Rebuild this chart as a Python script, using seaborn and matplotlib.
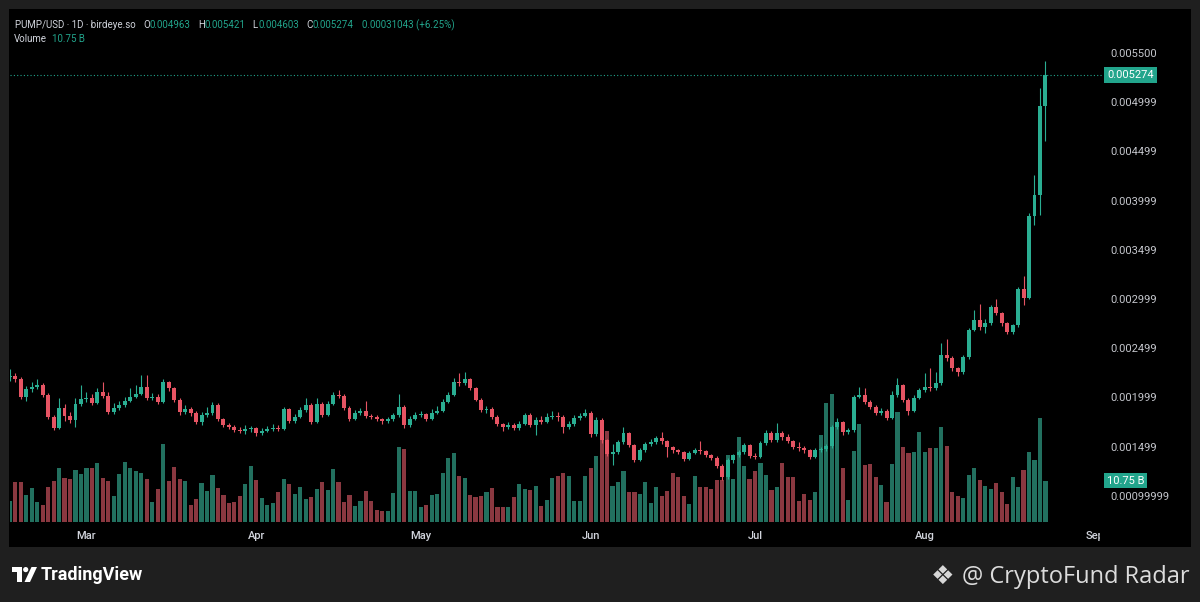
import numpy as np
import pandas as pd
import matplotlib
matplotlib.use('Agg')
import matplotlib.pyplot as plt
import matplotlib.patches as mpatches
from matplotlib.transforms import IdentityTransform
import seaborn as sns

# PUMP/USD daily candles from birdeye, 15 Feb -> 23 Aug
# prices are in thousandths of a USD, volume in billions
start_date = '2025-02-15'
first_open = 2.208

close_px = [
    2.218, 2.187, 2.004, 2.085, 2.106, 2.126, 2.024, 1.801, 1.689, 1.892,
    1.811, 1.770, 1.933, 1.984, 1.994, 1.943, 2.055, 2.014, 1.852, 1.892,
    1.923, 1.963, 2.004, 2.035, 2.106, 1.994, 2.004, 1.953, 2.157, 2.096,
    1.974, 1.852, 1.882, 1.841, 1.750, 1.821, 1.841, 1.923, 1.780, 1.720,
    1.699, 1.669, 1.659, 1.679, 1.689, 1.638, 1.659, 1.679, 1.689, 1.679,
    1.882, 1.760, 1.801, 1.872, 1.923, 1.750, 1.933, 1.821, 1.933, 2.024,
    2.014, 1.892, 1.780, 1.841, 1.862, 1.811, 1.801, 1.780, 1.760, 1.780,
    1.821, 1.902, 1.720, 1.780, 1.821, 1.831, 1.780, 1.841, 1.862, 1.953,
    2.024, 2.157, 2.146, 2.187, 2.096, 1.974, 1.872, 1.882, 1.801, 1.730,
    1.699, 1.720, 1.689, 1.730, 1.821, 1.720, 1.770, 1.750, 1.801, 1.811,
    1.801, 1.699, 1.730, 1.790, 1.811, 1.841, 1.628, 1.770, 1.567, 1.425,
    1.445, 1.547, 1.638, 1.516, 1.364, 1.465, 1.526, 1.547, 1.587, 1.557,
    1.496, 1.465, 1.445, 1.374, 1.435, 1.465, 1.455, 1.415, 1.384, 1.303,
    1.191, 1.364, 1.415, 1.445, 1.516, 1.404, 1.394, 1.537, 1.638, 1.567,
    1.638, 1.597, 1.557, 1.496, 1.486, 1.465, 1.394, 1.465, 1.476, 1.506,
    1.699, 1.750, 1.648, 1.669, 2.004, 2.024, 1.953, 1.902, 1.841, 1.862,
    1.790, 2.024, 2.126, 1.974, 1.862, 1.994, 2.075, 2.106, 2.096, 2.146,
    2.431, 2.400, 2.299, 2.258, 2.411, 2.685, 2.787, 2.716, 2.756, 2.919,
    2.858, 2.756, 2.665, 2.736, 3.102, 3.011, 3.843, 4.057, 4.963, 5.274,
]

high_px = [
    2.29, 2.25, 2.21, 2.12, 2.16, 2.19, 2.15, 2.04, 1.82, 1.99,
    1.93, 1.85, 1.99, 2.13, 2.06, 2.03, 2.10, 2.16, 2.05, 1.94,
    1.96, 2.00, 2.10, 2.13, 2.23, 2.23, 2.04, 2.03, 2.19, 2.17,
    2.11, 1.99, 1.92, 1.90, 1.86, 1.85, 1.90, 1.95, 1.94, 1.79,
    1.74, 1.72, 1.70, 1.72, 1.71, 1.70, 1.69, 1.71, 1.73, 1.72,
    1.90, 1.89, 1.83, 1.90, 1.99, 1.94, 1.99, 1.95, 1.96, 2.06,
    2.08, 2.03, 1.91, 1.87, 1.89, 1.96, 1.83, 1.82, 1.79, 1.80,
    1.84, 2.03, 1.92, 1.81, 1.85, 1.86, 1.84, 1.88, 1.91, 1.98,
    2.06, 2.20, 2.25, 2.26, 2.20, 2.11, 1.99, 1.91, 1.90, 1.82,
    1.74, 1.75, 1.74, 1.76, 1.84, 1.84, 1.80, 1.81, 1.84, 1.86,
    1.85, 1.82, 1.76, 1.82, 1.84, 1.88, 1.86, 1.80, 1.79, 1.58,
    1.53, 1.57, 1.70, 1.65, 1.53, 1.49, 1.55, 1.58, 1.61, 1.65,
    1.57, 1.51, 1.48, 1.46, 1.46, 1.49, 1.56, 1.47, 1.43, 1.40,
    1.32, 1.38, 1.43, 1.47, 1.54, 1.53, 1.44, 1.56, 1.67, 1.66,
    1.74, 1.66, 1.63, 1.57, 1.55, 1.51, 1.48, 1.49, 1.50, 1.53,
    1.72, 1.79, 1.76, 1.69, 2.02, 2.11, 2.10, 1.97, 1.92, 1.89,
    1.88, 2.07, 2.20, 2.14, 1.99, 2.02, 2.10, 2.25, 2.30, 2.26,
    2.55, 2.59, 2.42, 2.31, 2.43, 2.71, 2.89, 2.95, 2.80, 2.94,
    3.00, 2.87, 2.77, 2.75, 3.12, 3.23, 3.87, 4.26, 5.14, 5.421,
]

low_px = [
    2.17, 2.16, 1.98, 1.96, 2.06, 2.09, 2.00, 1.78, 1.67, 1.68,
    1.76, 1.74, 1.70, 1.91, 1.95, 1.92, 1.93, 1.99, 1.83, 1.83,
    1.87, 1.90, 1.95, 1.99, 2.02, 1.97, 1.97, 1.93, 1.94, 2.07,
    1.95, 1.82, 1.83, 1.81, 1.73, 1.72, 1.80, 1.82, 1.76, 1.70,
    1.68, 1.65, 1.64, 1.63, 1.65, 1.61, 1.62, 1.65, 1.66, 1.66,
    1.67, 1.74, 1.74, 1.79, 1.85, 1.73, 1.74, 1.80, 1.81, 1.92,
    1.99, 1.87, 1.76, 1.77, 1.82, 1.79, 1.78, 1.76, 1.73, 1.74,
    1.76, 1.80, 1.69, 1.70, 1.77, 1.80, 1.76, 1.77, 1.83, 1.85,
    1.94, 2.01, 2.12, 2.13, 2.08, 1.96, 1.85, 1.84, 1.78, 1.71,
    1.66, 1.68, 1.67, 1.67, 1.72, 1.70, 1.62, 1.73, 1.74, 1.78,
    1.76, 1.64, 1.68, 1.71, 1.77, 1.80, 1.60, 1.61, 1.54, 1.40,
    1.31, 1.42, 1.53, 1.50, 1.34, 1.35, 1.45, 1.51, 1.53, 1.53,
    1.39, 1.44, 1.42, 1.35, 1.36, 1.42, 1.43, 1.39, 1.36, 1.28,
    1.16, 1.17, 1.33, 1.39, 1.43, 1.38, 1.37, 1.38, 1.52, 1.55,
    1.55, 1.57, 1.54, 1.48, 1.46, 1.44, 1.37, 1.38, 1.45, 1.46,
    1.49, 1.68, 1.62, 1.63, 1.65, 1.99, 1.93, 1.88, 1.82, 1.82,
    1.77, 1.78, 2.00, 1.95, 1.82, 1.85, 1.98, 2.06, 2.07, 2.08,
    2.13, 2.37, 2.27, 2.22, 2.24, 2.39, 2.67, 2.69, 2.65, 2.74,
    2.84, 2.73, 2.64, 2.64, 2.72, 2.94, 3.00, 3.75, 3.85, 4.603,
]

volume_b = [
    5.4, 10.5, 10.5, 7.0, 8.9, 5.1, 4.4, 9.2, 10.7, 14.0,
    11.5, 11.2, 13.6, 12.6, 14.0, 14.0, 15.5, 11.5, 10.7, 6.8,
    12.4, 15.7, 14.1, 13.4, 12.9, 11.3, 5.2, 8.7, 20.4, 10.8,
    14.4, 11.3, 10.8, 4.4, 5.9, 10.1, 8.0, 12.2, 8.9, 7.0,
    4.8, 5.1, 6.8, 9.8, 14.7, 10.9, 6.3, 4.5, 4.8, 7.9,
    11.3, 9.8, 7.3, 9.0, 5.9, 6.6, 8.7, 10.3, 8.4, 13.8,
    10.5, 5.2, 7.0, 4.2, 5.4, 8.1, 5.4, 3.1, 2.9, 2.8,
    7.5, 19.6, 19.0, 8.0, 8.0, 3.9, 4.5, 7.0, 7.2, 12.7,
    16.6, 18.0, 12.0, 11.5, 7.0, 6.5, 6.8, 7.7, 8.9, 3.8,
    3.8, 3.9, 6.4, 9.8, 8.7, 8.3, 9.4, 4.0, 5.6, 11.5,
    12.1, 12.7, 12.0, 5.4, 5.4, 12.0, 14.2, 17.2, 21.5, 23.8,
    9.4, 10.5, 13.3, 7.7, 7.7, 7.2, 10.5, 4.8, 9.2, 6.7,
    8.0, 12.8, 11.7, 6.8, 4.6, 12.0, 9.2, 9.0, 8.5, 10.9,
    10.9, 17.5, 11.1, 22.1, 14.6, 11.3, 13.4, 15.5, 12.2, 8.3,
    9.2, 15.3, 11.8, 11.6, 5.5, 7.3, 5.7, 7.7, 22.7, 31.2,
    33.4, 24.9, 14.2, 5.8, 18.6, 25.5, 14.8, 15.1, 11.8, 9.6,
    5.2, 15.1, 28.8, 19.7, 17.9, 18.3, 23.6, 18.3, 19.2, 19.2,
    24.9, 19.8, 7.9, 6.7, 6.1, 12.2, 14.0, 10.9, 9.3, 8.7,
    10.2, 7.9, 4.6, 11.8, 9.0, 13.5, 18.3, 16.3, 27.1, 10.75,
]

price_ticks = [5.5, 5.0, 4.5, 4.0, 3.5, 3.0, 2.5, 2.0, 1.5, 1.0]
price_tick_labels = ['0.005500', '0.004999', '0.004499', '0.003999', '0.003499',
                     '0.002999', '0.002499', '0.001999', '0.001499', '0.00099999']
month_labels = ['Mar', 'Apr', 'May', 'Jun', 'Jul', 'Aug', 'Sep']

header_main = 'PUMP/USD · 1D · birdeye.so'
header_ohlc = [('O', '0.004963', 143), ('H', '0.005421', 198),
               ('L', '0.004603', 252), ('C', '0.005274', 306)]
header_change = '0.00031043 (+6.25%)'

# colours
BG = '#1f1f1f'
UP = '#2aae92'
DOWN = '#e65463'
VOL_UP = '#22705f'
VOL_DOWN = '#8a3840'
TEAL = '#22a58c'
TXT = '#d1d4dc'

# ---------------- data frame ----------------
n = len(close_px)
close = np.array(close_px) / 1000
opens = np.concatenate([[first_open], close_px[:-1]]) / 1000
df = pd.DataFrame({
    'day': np.arange(n),
    'open': opens,
    'close': close,
    'high': np.array(high_px) / 1000,
    'low': np.array(low_px) / 1000,
    'volume': volume_b,
})
df['dir'] = np.where(df['close'] >= df['open'], 'up', 'down')

days = pd.date_range(start_date, periods=200)
month_idx = [i for i, d in enumerate(days) if d.day == 1]

plt.rcParams['font.family'] = ['Roboto', 'DejaVu Sans']

W, H = 1200, 602
fig = plt.figure(figsize=(12, 6.02), dpi=100)
fig.patch.set_facecolor(BG)
idt = IdentityTransform()
# black chart panel
fig.add_artist(mpatches.Rectangle((9, H - 547), 1182, 538, transform=idt,
                                  fc='black', ec='none', zorder=-10))

def fxy(x, y):
    return x / W, 1 - y / H

# ---------------- volume (seaborn) ----------------
ax_vol = fig.add_axes([10 / W, 1 - 521.7 / H, 1093 / W, 511.7 / H])
ax_vol.set_facecolor('black')
sns.barplot(data=df, x='day', y='volume', hue='dir',
            palette={'up': VOL_UP, 'down': VOL_DOWN},
            native_scale=True, dodge=False, width=0.75, errorbar=None,
            saturation=1, legend=False, ax=ax_vol)
ax_vol.set_ylim(0, 134.2)
ax_vol.set_yticks([])
ax_vol.set_xlabel('')
ax_vol.set_ylabel('')

# ---------------- candles ----------------
ax_px = ax_vol.twinx()
ax_px.patch.set_visible(False)
cols = np.where(df['dir'] == 'up', UP, DOWN)
ax_px.vlines(df['day'], df['low'], df['high'], colors=cols, linewidth=0.8)
body = np.maximum((df['close'] - df['open']).abs(), 0.000012)
ax_px.bar(df['day'], body, bottom=np.minimum(df['open'], df['close']),
          width=0.72, color=cols, linewidth=0)
ax_px.set_ylim(0.000737, 0.005937)
ax_px.set_yticks(np.array(price_ticks) / 1000, labels=price_tick_labels)
ax_px.tick_params(axis='y', length=0, pad=5, labelsize=8, labelcolor='#c4c6cc')
ax_px.set_ylabel('')

ax_vol.set_xlim(0.05, 199.5)
ax_vol.set_xticks(month_idx, labels=month_labels)
ax_vol.tick_params(axis='x', length=0, pad=7, labelsize=8, labelcolor=TXT)
for lab in ax_vol.get_xticklabels():
    lab.set_fontweight('medium')

for a in (ax_vol, ax_px):
    for s in a.spines.values():
        s.set_visible(False)

# the price scale column hides the end of the "Sep" label
fig.add_artist(mpatches.Rectangle((1100, H - 546), 91, 22, transform=idt,
                                  fc='black', ec='none', zorder=5))

# last price line and scale labels
last_close = df['close'].iloc[-1]
ax_px.axhline(last_close, color=TEAL, linestyle=(0, (1, 2)), linewidth=0.8)
ax_px.annotate(f'{last_close:.6f}', xy=(1, last_close), xycoords=('axes fraction', 'data'),
               xytext=(3, 0), textcoords='offset points', ha='left', va='center',
               fontsize=8, color='white', annotation_clip=False,
               bbox=dict(boxstyle='square,pad=0.25', fc=TEAL, ec='none'))
ax_vol.annotate(f'{volume_b[-1]:.2f} B', xy=(1, volume_b[-1]), xycoords=('axes fraction', 'data'),
                xytext=(3, 0), textcoords='offset points', ha='left', va='center',
                fontsize=8, color='white', annotation_clip=False,
                bbox=dict(boxstyle='square,pad=0.25', fc=TEAL, ec='none'))

# ---------------- header ----------------
HS = 7.0
fig.text(*fxy(15, 25), header_main, color=TXT, fontsize=HS, va='center')
for letter, val, x0 in header_ohlc:
    fig.text(*fxy(x0, 25), letter, color=TXT, fontsize=HS, va='center')
    fig.text(*fxy(x0 + 6.5, 25), val, color=TEAL, fontsize=HS, va='center')
fig.text(*fxy(362, 25), header_change, color=TEAL, fontsize=HS, va='center')
fig.text(*fxy(14, 39), 'Volume', color=TXT, fontsize=HS, va='center')
fig.text(*fxy(52, 39), f'{volume_b[-1]:.2f} B', color=TEAL, fontsize=HS, va='center')

# ---------------- footer ----------------
logo = [
    mpatches.Polygon([(12, H - 567), (22, H - 567), (22, H - 582), (17, H - 582),
                      (17, H - 572), (12, H - 572)], closed=True),
    mpatches.Circle((25.7, H - 569.6), 2.6),
    mpatches.Polygon([(24.5, H - 582), (30, H - 582), (37, H - 567), (31.5, H - 567)], closed=True),
]
for p in logo:
    p.set_transform(idt)
    p.set_facecolor('white')
    p.set_edgecolor('none')
    fig.add_artist(p)
fig.text(*fxy(41, 575), 'TradingView', color='white', fontsize=13, fontweight='bold', va='center')

fig.text(*fxy(943, 577), '❖', color='#d6d6d6', fontsize=19, ha='center', va='center',
         family=['DejaVu Sans'])
fig.text(*fxy(1190, 577), '@ CryptoFund Radar', color='#dcdcdc', fontsize=17,
         ha='right', va='center', family=['Open Sans', 'DejaVu Sans'])

fig.savefig('out.png', dpi=100, facecolor=BG)
